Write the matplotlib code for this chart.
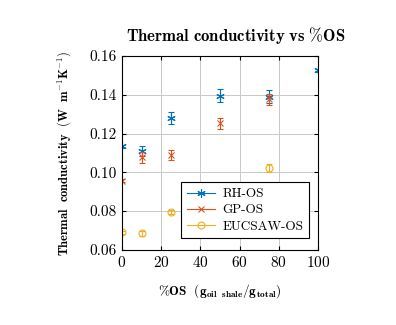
import matplotlib.pyplot as plt
from matplotlib.lines import Line2D

plt.rcParams['font.family'] = 'serif'
plt.rcParams['font.serif'] = ['cmr10']
plt.rcParams['mathtext.fontset'] = 'cm'
plt.rcParams['axes.formatter.use_mathtext'] = True

# data
rh_x = [0, 10, 25, 50, 75, 100]
rh_y = [0.1135, 0.111, 0.128, 0.1394, 0.1389, 0.1526]
rh_err = [0.0008, 0.0027, 0.0029, 0.0033, 0.0033, 0.0008]

gp_x = [0, 10, 25, 50, 75]
gp_y = [0.0957, 0.1077, 0.1089, 0.1252, 0.1376]
gp_err = [0.0008, 0.0029, 0.0027, 0.0028, 0.0029]

eu_x = [0, 10, 25, 75]
eu_y = [0.0691, 0.0686, 0.0794, 0.1024]
eu_err = [0.0008, 0.0012, 0.0010, 0.0020]

labels = ['RH-OS', 'GP-OS', 'EUCSAW-OS']
colors = ['#0072BD', '#D95319', '#EDB120']
star = (6, 2, 0)

fig = plt.figure(figsize=(3.96, 3.25), dpi=100)
ax = fig.add_axes([0.308, 0.231, 0.495, 0.597])

ax.errorbar(rh_x, rh_y, yerr=rh_err, fmt='none', ecolor=colors[0],
            capsize=2.5, elinewidth=0.8, capthick=0.8)
ax.plot(rh_x, rh_y, ls='none', marker=star, color=colors[0], ms=6, mew=0.8)
ax.errorbar(gp_x, gp_y, yerr=gp_err, fmt='none', ecolor=colors[1],
            capsize=2.5, elinewidth=0.8, capthick=0.8)
ax.plot(gp_x, gp_y, ls='none', marker='x', color=colors[1], ms=4, mew=0.8)
ax.errorbar(eu_x, eu_y, yerr=eu_err, fmt='none', ecolor=colors[2],
            capsize=2.5, elinewidth=0.8, capthick=0.8)
ax.plot(eu_x, eu_y, ls='none', marker='o', color=colors[2], ms=5,
        mfc='none', mew=0.8)

ax.set_xlim(0, 100)
ax.set_ylim(0.06, 0.16)
ax.set_xticks([0, 20, 40, 60, 80, 100])
ax.set_yticks([0.06, 0.08, 0.10, 0.12, 0.14, 0.16])
ax.set_yticklabels(['0.06', '0.08', '0.10', '0.12', '0.14', '0.16'])
ax.tick_params(labelsize=11, direction='in', top=True, right=True, length=3)
ax.grid(True, color='#c8c8c8', linewidth=0.7)
for s in ax.spines.values():
    s.set_linewidth(0.8)

ax.set_title(r'$\mathbf{Thermal\ conductivity\ vs\ \%OS}$', fontsize=12, pad=11, x=0.58)
ax.set_xlabel(r'$\mathbf{\%OS\ \ (g_{oil\ \ shale}/g_{total})}$', fontsize=9.5, labelpad=9)
ax.set_ylabel(r'$\mathbf{Thermal\ \ conductivity\ \ (W\ \ m^{-1}K^{-1})}$', fontsize=9, labelpad=12)

handles = [
    Line2D([], [], color=colors[0], marker=star, ms=6, mew=0.8, lw=0.8),
    Line2D([], [], color=colors[1], marker='x', ms=4, mew=0.8, lw=0.8),
    Line2D([], [], color=colors[2], marker='o', ms=5, mfc='none', mew=0.8, lw=0.8),
]
leg = ax.legend(handles, labels, loc='lower right', bbox_to_anchor=(0.99, 0.025),
                fontsize=9.5, fancybox=False, framealpha=1, edgecolor='black',
                handlelength=2.1, handletextpad=0.6, borderpad=0.45, labelspacing=0.3)
leg.get_frame().set_linewidth(0.8)

plt.savefig('out.png', dpi=100)
